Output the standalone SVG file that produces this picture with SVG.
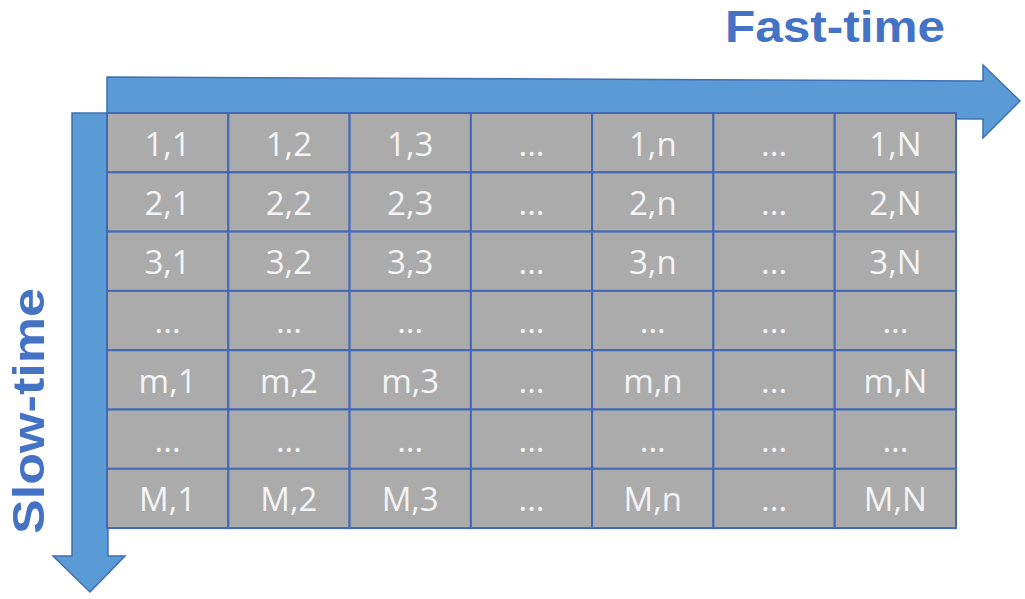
<svg xmlns="http://www.w3.org/2000/svg" width="1025" height="599" viewBox="0 0 1025 599">
<style>
.arrow{fill:#5b9bd5;stroke:#3f6fb5;stroke-width:1.5}
.cell{fill:#ababab;stroke:#4169b8;stroke-width:2}
.ct{font-family:"Open Sans","Liberation Sans",sans-serif;font-size:33px;fill:#f4f4f4;text-anchor:middle}
.title{font-family:"Liberation Sans","Open Sans",sans-serif;font-size:45px;font-weight:bold;fill:#4472c4;text-anchor:middle}
</style>
<rect width="1025" height="599" fill="#ffffff"/>
<g id="connectors">
<polygon class="arrow" points="107,77 983,81 983,65 1020,101 983,138 983,119 107,114"/>
<polygon class="arrow" points="72,113 107,113 108,556 125,556 90,592 53,556 72,556"/>
</g>
<g id="title-fast"><text class="title" x="835" y="42" textLength="220" lengthAdjust="spacingAndGlyphs">Fast-time</text></g>
<g id="title-slow"><text class="title" transform="translate(44,411) rotate(-90)" x="0" y="0" textLength="246" lengthAdjust="spacingAndGlyphs">Slow-time</text></g>
<g id="grid">
<g id="r1">
<rect class="cell" x="107" y="113" width="121.3" height="59.3"/><rect class="cell" x="228.3" y="113" width="121.3" height="59.3"/><rect class="cell" x="349.6" y="113" width="121.3" height="59.3"/><rect class="cell" x="470.9" y="113" width="121.3" height="59.3"/><rect class="cell" x="592.1" y="113" width="121.3" height="59.3"/><rect class="cell" x="713.4" y="113" width="121.3" height="59.3"/><rect class="cell" x="834.7" y="113" width="121.3" height="59.3"/>
<text class="ct" x="167.6" y="155.5">1,1</text><text class="ct" x="288.9" y="155.5">1,2</text><text class="ct" x="410.2" y="155.5">1,3</text><text class="ct" x="531.5" y="155.5">...</text><text class="ct" x="652.8" y="155.5">1,n</text><text class="ct" x="774.1" y="155.5">...</text><text class="ct" x="895.4" y="155.5">1,N</text>
</g>
<g id="r2">
<rect class="cell" x="107" y="172.3" width="121.3" height="59.3"/><rect class="cell" x="228.3" y="172.3" width="121.3" height="59.3"/><rect class="cell" x="349.6" y="172.3" width="121.3" height="59.3"/><rect class="cell" x="470.9" y="172.3" width="121.3" height="59.3"/><rect class="cell" x="592.1" y="172.3" width="121.3" height="59.3"/><rect class="cell" x="713.4" y="172.3" width="121.3" height="59.3"/><rect class="cell" x="834.7" y="172.3" width="121.3" height="59.3"/>
<text class="ct" x="167.6" y="214.8">2,1</text><text class="ct" x="288.9" y="214.8">2,2</text><text class="ct" x="410.2" y="214.8">2,3</text><text class="ct" x="531.5" y="214.8">...</text><text class="ct" x="652.8" y="214.8">2,n</text><text class="ct" x="774.1" y="214.8">...</text><text class="ct" x="895.4" y="214.8">2,N</text>
</g>
<g id="r3">
<rect class="cell" x="107" y="231.6" width="121.3" height="59.3"/><rect class="cell" x="228.3" y="231.6" width="121.3" height="59.3"/><rect class="cell" x="349.6" y="231.6" width="121.3" height="59.3"/><rect class="cell" x="470.9" y="231.6" width="121.3" height="59.3"/><rect class="cell" x="592.1" y="231.6" width="121.3" height="59.3"/><rect class="cell" x="713.4" y="231.6" width="121.3" height="59.3"/><rect class="cell" x="834.7" y="231.6" width="121.3" height="59.3"/>
<text class="ct" x="167.6" y="274.1">3,1</text><text class="ct" x="288.9" y="274.1">3,2</text><text class="ct" x="410.2" y="274.1">3,3</text><text class="ct" x="531.5" y="274.1">...</text><text class="ct" x="652.8" y="274.1">3,n</text><text class="ct" x="774.1" y="274.1">...</text><text class="ct" x="895.4" y="274.1">3,N</text>
</g>
<g id="r4">
<rect class="cell" x="107" y="290.9" width="121.3" height="59.3"/><rect class="cell" x="228.3" y="290.9" width="121.3" height="59.3"/><rect class="cell" x="349.6" y="290.9" width="121.3" height="59.3"/><rect class="cell" x="470.9" y="290.9" width="121.3" height="59.3"/><rect class="cell" x="592.1" y="290.9" width="121.3" height="59.3"/><rect class="cell" x="713.4" y="290.9" width="121.3" height="59.3"/><rect class="cell" x="834.7" y="290.9" width="121.3" height="59.3"/>
<text class="ct" x="167.6" y="333.4">...</text><text class="ct" x="288.9" y="333.4">...</text><text class="ct" x="410.2" y="333.4">...</text><text class="ct" x="531.5" y="333.4">...</text><text class="ct" x="652.8" y="333.4">...</text><text class="ct" x="774.1" y="333.4">...</text><text class="ct" x="895.4" y="333.4">...</text>
</g>
<g id="r5">
<rect class="cell" x="107" y="350.2" width="121.3" height="59.3"/><rect class="cell" x="228.3" y="350.2" width="121.3" height="59.3"/><rect class="cell" x="349.6" y="350.2" width="121.3" height="59.3"/><rect class="cell" x="470.9" y="350.2" width="121.3" height="59.3"/><rect class="cell" x="592.1" y="350.2" width="121.3" height="59.3"/><rect class="cell" x="713.4" y="350.2" width="121.3" height="59.3"/><rect class="cell" x="834.7" y="350.2" width="121.3" height="59.3"/>
<text class="ct" x="167.6" y="392.7">m,1</text><text class="ct" x="288.9" y="392.7">m,2</text><text class="ct" x="410.2" y="392.7">m,3</text><text class="ct" x="531.5" y="392.7">...</text><text class="ct" x="652.8" y="392.7">m,n</text><text class="ct" x="774.1" y="392.7">...</text><text class="ct" x="895.4" y="392.7">m,N</text>
</g>
<g id="r6">
<rect class="cell" x="107" y="409.5" width="121.3" height="59.3"/><rect class="cell" x="228.3" y="409.5" width="121.3" height="59.3"/><rect class="cell" x="349.6" y="409.5" width="121.3" height="59.3"/><rect class="cell" x="470.9" y="409.5" width="121.3" height="59.3"/><rect class="cell" x="592.1" y="409.5" width="121.3" height="59.3"/><rect class="cell" x="713.4" y="409.5" width="121.3" height="59.3"/><rect class="cell" x="834.7" y="409.5" width="121.3" height="59.3"/>
<text class="ct" x="167.6" y="452">...</text><text class="ct" x="288.9" y="452">...</text><text class="ct" x="410.2" y="452">...</text><text class="ct" x="531.5" y="452">...</text><text class="ct" x="652.8" y="452">...</text><text class="ct" x="774.1" y="452">...</text><text class="ct" x="895.4" y="452">...</text>
</g>
<g id="r7">
<rect class="cell" x="107" y="468.8" width="121.3" height="59.3"/><rect class="cell" x="228.3" y="468.8" width="121.3" height="59.3"/><rect class="cell" x="349.6" y="468.8" width="121.3" height="59.3"/><rect class="cell" x="470.9" y="468.8" width="121.3" height="59.3"/><rect class="cell" x="592.1" y="468.8" width="121.3" height="59.3"/><rect class="cell" x="713.4" y="468.8" width="121.3" height="59.3"/><rect class="cell" x="834.7" y="468.8" width="121.3" height="59.3"/>
<text class="ct" x="167.6" y="511.3">M,1</text><text class="ct" x="288.9" y="511.3">M,2</text><text class="ct" x="410.2" y="511.3">M,3</text><text class="ct" x="531.5" y="511.3">...</text><text class="ct" x="652.8" y="511.3">M,n</text><text class="ct" x="774.1" y="511.3">...</text><text class="ct" x="895.4" y="511.3">M,N</text>
</g>
</g>
</svg>
